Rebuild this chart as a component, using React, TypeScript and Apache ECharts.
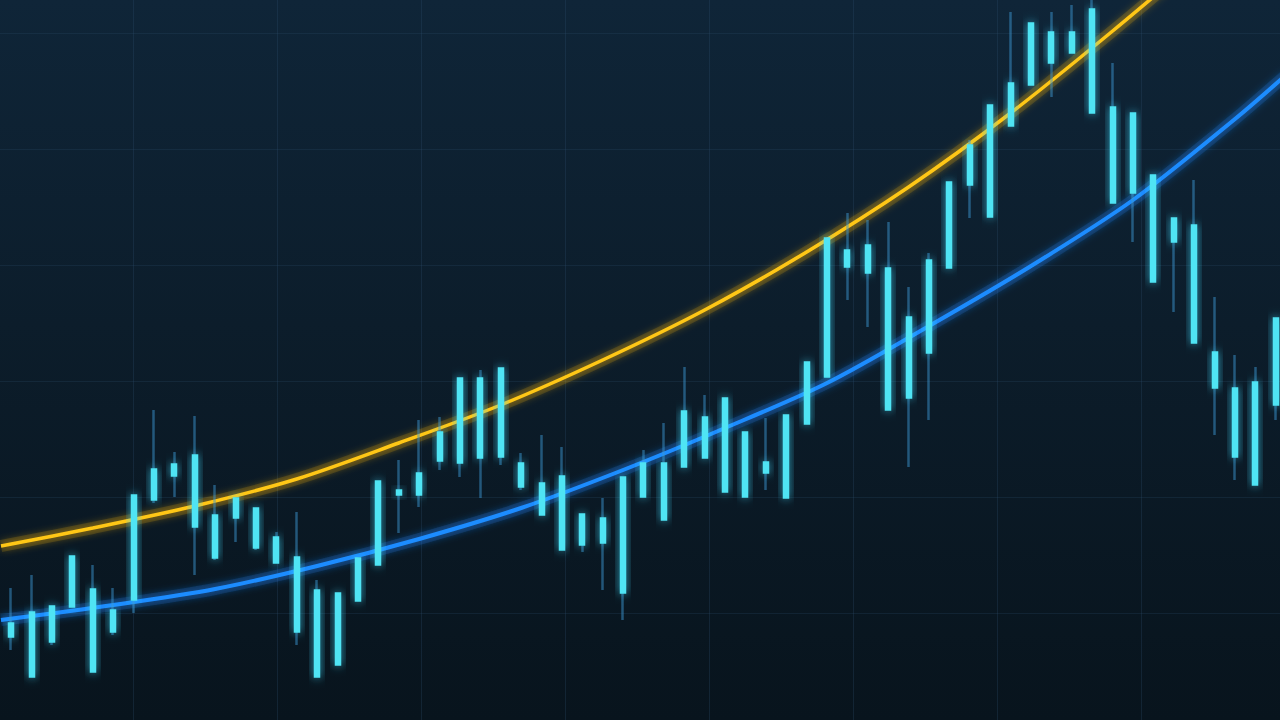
import React, { useEffect, useRef } from "react";
import * as echarts from "echarts";

// Candle values (price units, bottom of picture = 0, top = 720)
const opens = [83, 43, 78, 113, 48, 88, 120, 220, 244, 193, 162, 202, 172, 157, 88, 43, 55, 119, 155, 225, 225, 259, 257, 262, 263, 233, 205, 170, 175, 177, 127, 223, 200, 253, 262, 228, 223, 247, 222, 296, 343, 453, 447, 310, 322, 367, 452, 535, 503, 594, 635, 657, 667, 607, 517, 527, 438, 478, 377, 332, 263, 235, 315];
const closes = [97, 108, 114, 164, 131, 110, 225, 251, 256, 265, 205, 222, 212, 183, 163, 130, 127, 162, 239, 230, 247, 288, 342, 342, 352, 257, 237, 244, 206, 202, 243, 257, 257, 309, 303, 322, 288, 258, 305, 358, 482, 470, 475, 452, 403, 460, 538, 575, 615, 637, 697, 688, 688, 711, 613, 607, 545, 502, 495, 368, 332, 338, 402];
const lows = [70, 43, 75, 113, 48, 85, 107, 217, 223, 145, 160, 178, 170, 157, 75, 43, 55, 119, 155, 187, 213, 250, 243, 222, 255, 230, 205, 170, 168, 130, 100, 223, 200, 253, 262, 228, 223, 230, 222, 296, 343, 420, 393, 310, 253, 300, 452, 502, 503, 594, 635, 623, 667, 607, 517, 478, 438, 408, 377, 285, 240, 235, 300];
const highs = [132, 145, 114, 164, 155, 132, 225, 310, 268, 304, 235, 222, 212, 188, 208, 140, 127, 162, 239, 260, 300, 303, 342, 350, 352, 267, 285, 273, 206, 222, 243, 270, 297, 353, 325, 322, 288, 302, 305, 358, 482, 507, 500, 498, 433, 467, 538, 580, 615, 708, 697, 708, 715, 720, 657, 607, 545, 502, 540, 423, 365, 353, 402];
const categories = opens.map((_, i) => `T${i + 1}`);

// Curves: sampled at candle index positions
const upperIdx = [-0.5, 4, 9, 14, 19, 24, 29, 34, 39, 44, 49, 54, 59];
const upperVals = [174, 192, 214, 241, 277, 315, 360, 410, 468, 533, 607, 689, 775];
const lowerIdx = [-0.5, 5, 10, 15, 20, 25, 30, 35, 40, 45, 50, 55, 60, 62.5];
const lowerVals = [100, 115, 131, 154, 181, 212, 250, 292, 337, 394, 454, 520, 601, 645];

export default function App() {
  const ref = useRef<HTMLDivElement>(null);
  useEffect(() => {
    if (!ref.current) return;
    const chart = echarts.init(ref.current, undefined, { renderer: "svg" });
    const wickData = opens.map((o, i) => [o, closes[i], lows[i], highs[i]]);
    const bodyData = opens.map((o, i) => [o, closes[i], Math.min(o, closes[i]), Math.max(o, closes[i])]);
    const upper = upperIdx.map((x, i) => [x, upperVals[i]]);
    const lower = lowerIdx.map((x, i) => [x, lowerVals[i]]);
    const hidden = { axisLine: { show: false }, axisTick: { show: false }, axisLabel: { show: false } };
    const curve = { xAxisIndex: 1, yAxisIndex: 0, smooth: 0.3, symbol: "none" };
    chart.setOption({
      animation: false,
      backgroundColor: "transparent",
      grid: [
        { left: 1, right: -6, top: 0, bottom: 0, outerBoundsMode: "none", containLabel: false },
        { left: -11, right: -5, top: -83, bottom: -9, outerBoundsMode: "none", containLabel: false },
      ],
      xAxis: [
        { type: "category", data: categories, gridIndex: 0, boundaryGap: true, splitLine: { show: false }, ...hidden },
        { type: "value", gridIndex: 0, min: -0.5, max: 62.5, splitLine: { show: false }, ...hidden },
        {
          type: "value", gridIndex: 1, min: 0, max: 1296, interval: 144,
          splitLine: { show: true, lineStyle: { color: "rgba(45,80,110,0.28)", width: 1 } }, ...hidden,
        },
      ],
      yAxis: [
        { type: "value", gridIndex: 0, min: 0, max: 720, splitLine: { show: false }, ...hidden },
        {
          type: "value", gridIndex: 1, min: 0, max: 812, interval: 116,
          splitLine: { show: true, lineStyle: { color: "rgba(45,80,110,0.24)", width: 1 } }, ...hidden,
        },
      ],
      series: [
        { type: "line", ...curve, data: upper, z: 1, lineStyle: { color: "rgba(255,190,20,0.16)", width: 12 } },
        { type: "line", ...curve, data: lower, z: 1, lineStyle: { color: "rgba(30,140,255,0.16)", width: 12 } },
        {
          type: "line", ...curve, data: upper, z: 2,
          lineStyle: { color: "#ffc716", width: 3.5, shadowBlur: 10, shadowColor: "rgba(255,180,0,0.9)" },
        },
        {
          type: "line", ...curve, data: lower, z: 2,
          lineStyle: { color: "#1e8cff", width: 4, shadowBlur: 10, shadowColor: "rgba(30,130,255,0.9)" },
        },
        {
          type: "candlestick", xAxisIndex: 0, yAxisIndex: 0, data: wickData, barWidth: 1, z: 3,
          itemStyle: {
            color: "rgba(60,150,210,0.5)", color0: "rgba(60,150,210,0.5)",
            borderColor: "rgba(60,150,210,0.5)", borderColor0: "rgba(60,150,210,0.5)", borderWidth: 2.5,
          },
        },
        {
          type: "candlestick", xAxisIndex: 0, yAxisIndex: 0, data: bodyData, barWidth: 5.5, z: 4,
          itemStyle: {
            color: "#4fe4f4", color0: "#4fe4f4", borderColor: "#4fe4f4", borderColor0: "#4fe4f4",
            borderWidth: 1.5, shadowBlur: 10, shadowColor: "rgba(60,220,255,0.75)",
          },
        },
      ],
    });
    return () => chart.dispose();
  }, []);
  return (
    <div
      style={{
        position: "fixed", left: 0, top: 0, width: 1280, height: 720,
        background: "linear-gradient(180deg, #0f2538 0%, #0c1d2b 45%, #08141d 100%)",
      }}
    >
      <div ref={ref} style={{ width: 1280, height: 720 }} />
    </div>
  );
}
